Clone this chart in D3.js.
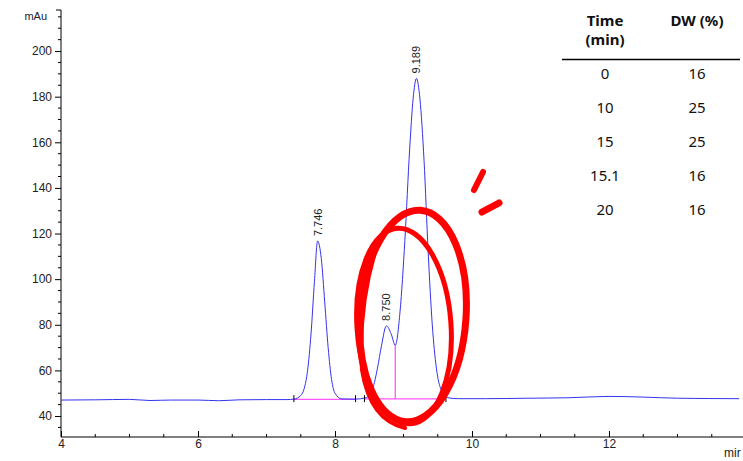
<!DOCTYPE html>
<html><head><meta charset="utf-8">
<script src="https://cdn.jsdelivr.net/npm/d3@7"></script>
<style>body{margin:0;background:#fff}svg{display:block}</style>
</head><body><svg id="chart" width="743" height="461" font-family="Liberation Sans, Arial, sans-serif"></svg>
<script>
// trace: [time (min), mAU]
const trace = [
  [4.0,47.0],[4.5,47.1],[5.0,47.3],[5.3,46.8],[5.6,47.0],[6.0,47.0],[6.3,46.7],[6.6,47.1],[7.0,47.2],[7.3,47.2],
  [7.40,47.4],[7.50,49],[7.55,52],[7.60,60],[7.65,76],[7.70,99],[7.746,116.7],[7.80,109],[7.85,90],[7.90,70],
  [7.95,56],[8.00,50],[8.10,47.5],[8.3,47.4],[8.45,48],[8.55,52],[8.62,61],[8.68,71],[8.75,79.5],[8.82,76],
  [8.88,71],[8.95,86],[9.02,117],[9.09,157],[9.14,179],[9.189,188],[9.24,179],[9.30,152],[9.36,112],[9.42,80],
  [9.48,61],[9.55,51.5],[9.65,48],[9.8,47.6],[10.2,47.6],[10.8,47.8],[11.4,48.0],[12.0,48.6],[12.5,48.3],[13.0,47.8],[13.9,47.6]
];
const peaks = [{t:7.746, v:116.7, label:"7.746"},{t:8.750, v:79.5, label:"8.750"},{t:9.189, v:188, label:"9.189"}];
const baselines = [[7.40,8.30,47.3],[8.43,9.62,47.5]];
const dropLine = [8.88, 47.5, 71];
const peakMarks = [7.40, 8.30, 8.43, 9.62];
const tableHead = ["Time\n(min)", "DW (%)"];
const tableTime = ["0","10","15","15.1","20"];
const tableDW = ["16","25","25","16","16"];

const svg = d3.select("#chart");
const font = "Liberation Sans, Arial, sans-serif";
const x = d3.scaleLinear().domain([4, 14]).range([61, 746]);
const y = d3.scaleLinear().domain([30.8, 218]).range([437, 10]);

svg.append("defs").append("clipPath").attr("id","clip")
  .append("rect").attr("x",61).attr("y",0).attr("width",680).attr("height",437);

// axes
const yAxis = d3.axisLeft(y).tickValues(d3.range(40, 201, 20)).tickSize(6).tickPadding(3);
const gy = svg.append("g").attr("transform","translate(61,0)").call(yAxis).attr("font-family",font);
gy.select(".domain").attr("d","M0,10V437");
gy.selectAll(".tick text").attr("font-size",12).attr("fill","#222");
svg.append("g").attr("transform","translate(61,0)").selectAll("line")
  .data(d3.range(35, 216, 5).filter(v => v % 20 !== 0)).join("line")
  .attr("x1",-3).attr("x2",0).attr("y1",d=>y(d)).attr("y2",d=>y(d)).attr("stroke","#000");
svg.append("line").attr("x1",56).attr("x2",61).attr("y1",10).attr("y2",10).attr("stroke","#000");
svg.append("text").attr("x",47).attr("y",20).attr("text-anchor","end").attr("font-size",11).attr("fill","#222").text("mAu");

const xAxis = d3.axisBottom(x).tickValues(d3.range(4, 14, 2)).tickSize(-6).tickPadding(4);
const gx = svg.append("g").attr("transform","translate(0,437)").call(xAxis).attr("font-family",font);
gx.select(".domain").attr("d","M61,0H743");
gx.selectAll(".tick text").attr("font-size",12).attr("fill","#222").attr("dy","0.55em");
svg.append("g").attr("transform","translate(0,437)").selectAll("line")
  .data(d3.range(4.5, 14, 0.5).filter(v => v % 2 !== 0)).join("line")
  .attr("x1",d=>x(d)).attr("x2",d=>x(d)).attr("y1",0).attr("y2",-3).attr("stroke","#000");
svg.append("text").attr("x",724).attr("y",457).attr("font-size",12).attr("fill","#222").text("mir");

const plot = svg.append("g").attr("clip-path","url(#clip)");
// integration baselines
plot.selectAll(".bl").data(baselines).join("line")
  .attr("x1",d=>x(d[0])).attr("x2",d=>x(d[1])).attr("y1",d=>y(d[2])).attr("y2",d=>y(d[2]))
  .attr("stroke","#ff55ff").attr("stroke-width",1.3);
plot.append("line").attr("x1",x(dropLine[0])).attr("x2",x(dropLine[0]))
  .attr("y1",y(dropLine[1])).attr("y2",y(dropLine[2])).attr("stroke","#ff55ff").attr("stroke-width",1.3);

plot.append("path").datum(trace)
  .attr("d", d3.line().x(d=>x(d[0])).y(d=>y(d[1])).curve(d3.curveMonotoneX))
  .attr("fill","none").attr("stroke","#3333ee").attr("stroke-width",1);

plot.selectAll(".pm").data(peakMarks).join("line")
  .attr("x1",d=>x(d)).attr("x2",d=>x(d)).attr("y1",y(47.4)-4).attr("y2",y(47.4)+3)
  .attr("stroke","#000");

svg.selectAll(".pl").data(peaks).join("text")
  .attr("transform",d=>`translate(${x(d.t)+4},${y(d.v)-5}) rotate(-90)`)
  .attr("font-size",11).attr("fill","#222").text(d=>d.label);

// table
const tbl = svg.append("g").attr("font-family","'Noto Sans',sans-serif").attr("font-size",15).attr("fill","#111");
const colX = [605, 697];
tbl.append("text").attr("x",colX[0]).attr("y",26).attr("text-anchor","middle").attr("font-weight","bold")
  .selectAll("tspan").data(tableHead[0].split("\n")).join("tspan").attr("x",colX[0]).attr("dy",(d,i)=>i?19:0).text(d=>d);
tbl.append("text").attr("x",colX[1]).attr("y",26).attr("text-anchor","middle").attr("font-weight","bold").text(tableHead[1]);
svg.append("line").attr("x1",562).attr("x2",740).attr("y1",59.5).attr("y2",59.5).attr("stroke","#000").attr("stroke-width",1.3);
tbl.selectAll(".tt").data(tableTime).join("text").attr("x",colX[0]).attr("y",(d,i)=>79+i*34).attr("text-anchor","middle").text(d=>d);
tbl.selectAll(".td").data(tableDW).join("text").attr("x",colX[1]).attr("y",(d,i)=>79+i*34).attr("text-anchor","middle").text(d=>d);

// red hand-drawn annotation
const red = svg.append("g").attr("fill","none").attr("stroke","#f00").attr("stroke-linecap","round");
red.append("ellipse").attr("cx",413).attr("cy",316).attr("rx",53).attr("ry",106).attr("transform","rotate(4 413 316)").attr("stroke-width",7);
red.append("ellipse").attr("cx",404).attr("cy",326).attr("rx",47).attr("ry",98).attr("transform","rotate(-4 404 326)").attr("stroke-width",5);
red.append("path").attr("d","M375,252 Q358,310 362,370 Q370,420 405,428").attr("stroke-width",4);
red.append("path").attr("d","M483,172 L474,190").attr("stroke-width",6);
red.append("path").attr("d","M482,212 L499,203").attr("stroke-width",7);
</script></body></html>
